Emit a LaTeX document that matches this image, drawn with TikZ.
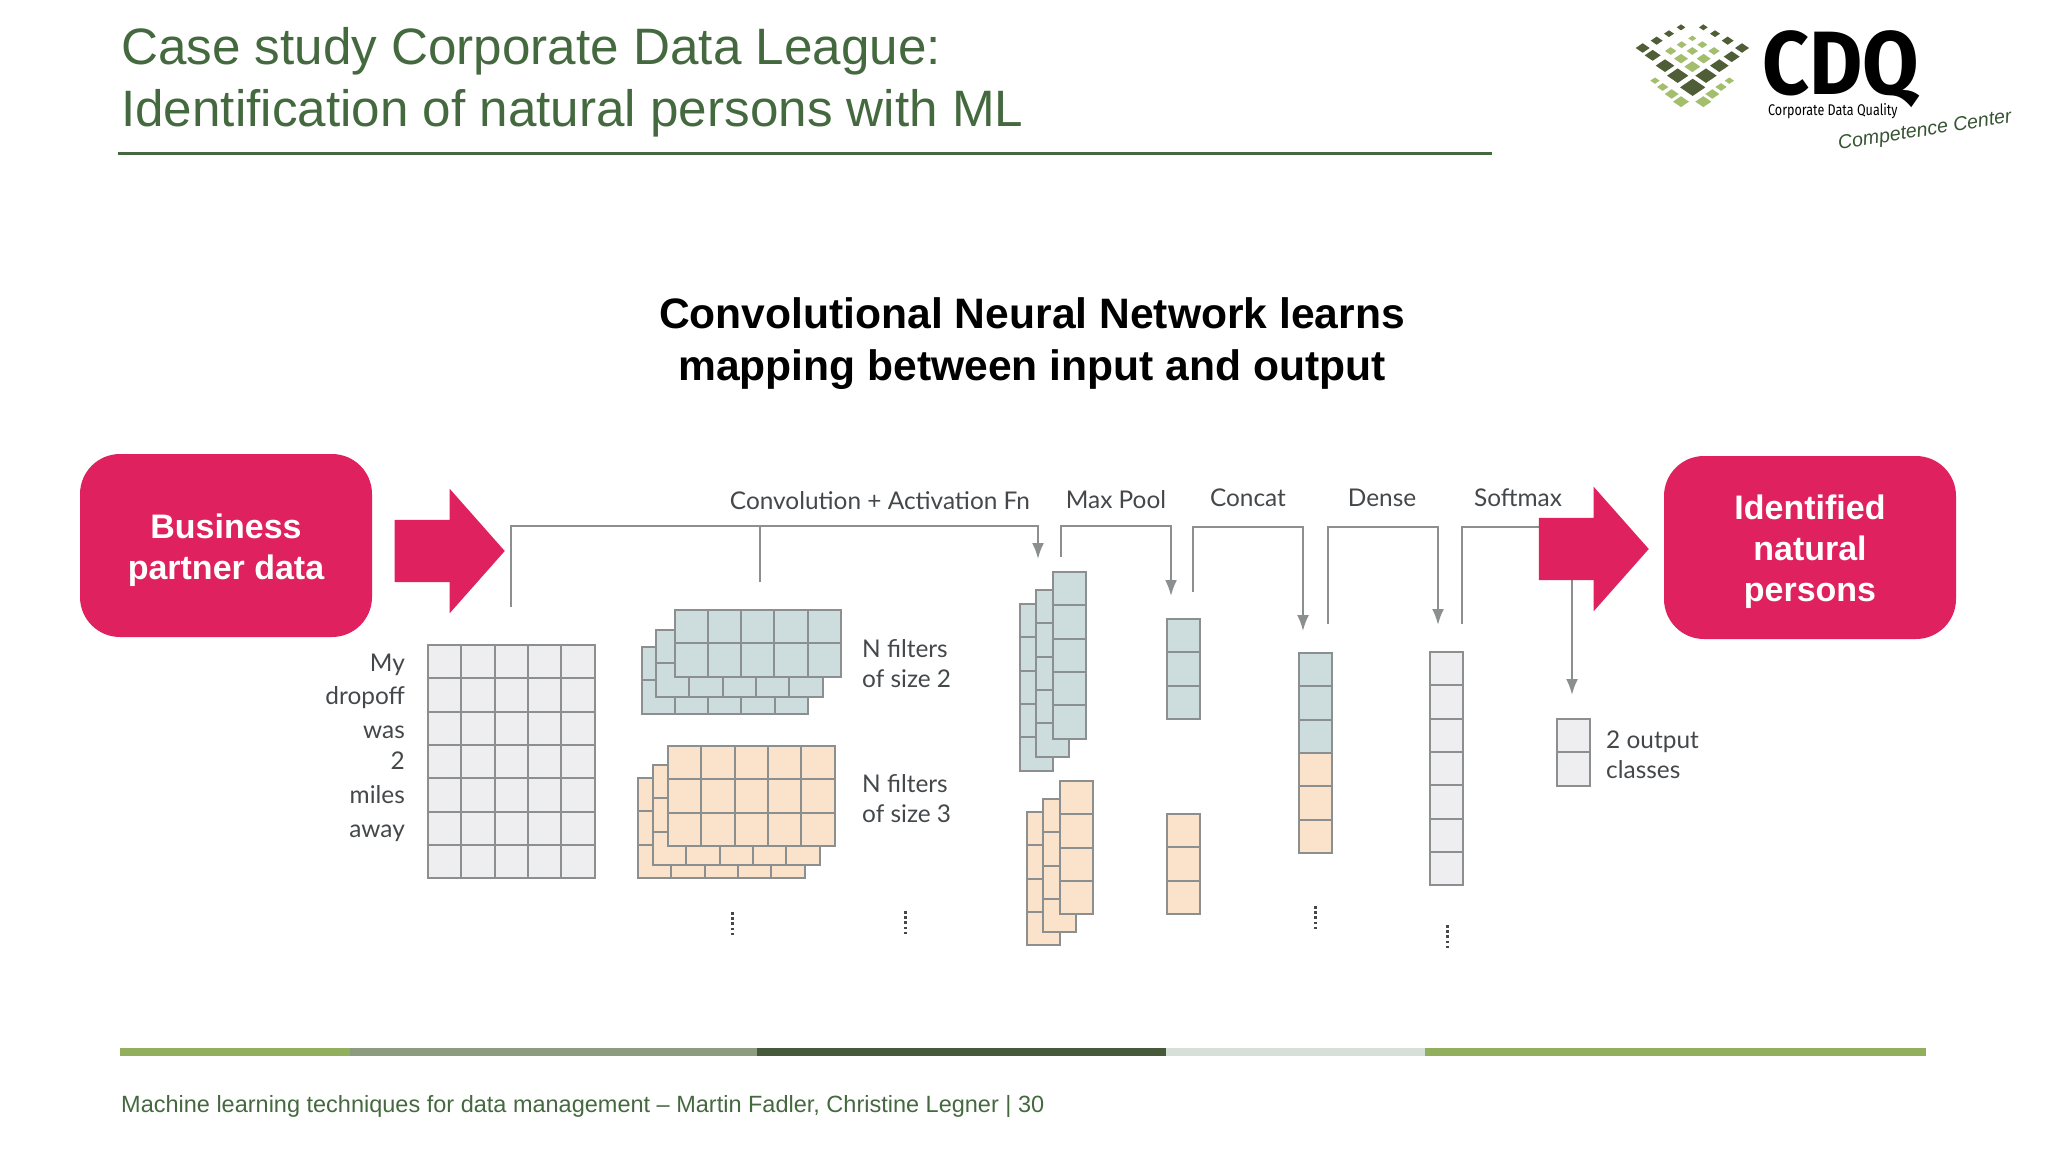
\documentclass[tikz,border=0pt]{standalone}
\usepackage{fontspec}
\setmainfont{Liberation Sans}
\newfontfamily\cnnfont{Lato}
\newfontfamily\cdqfont{Fira Sans}
\usetikzlibrary{arrows,arrows.meta,shapes,shapes.arrows,positioning}
\definecolor{slidegreen}{HTML}{44693F}
\definecolor{pink}{HTML}{E0215F}
\definecolor{cellline}{HTML}{8C8F90}
\definecolor{cellgrey}{HTML}{EEEEF1}
\definecolor{cellblue}{HTML}{CDDDDE}
\definecolor{cellorange}{HTML}{FBE3CB}
\definecolor{cnntext}{HTML}{44484A}
\definecolor{leafdark}{HTML}{4F5E36}
\definecolor{leaflight}{HTML}{A3BE6C}
% one block of square cells: name, left, top, columns, rows, fill
\newcommand{\cnngrid}[6]{
  \foreach \col in {1,...,#4}
    \foreach \row in {1,...,#5}
      \path [cell,fill=#6] ({#2+(\col-1)*33.3},{#3+(\row-1)*33.3})
        rectangle +(33.3,33.3);
  \coordinate (#1) at ({#2+#4*16.65},#3);
}
\begin{document}
\begin{tikzpicture}
  [x=1pt,y=-1pt,
  title/.style={font=\fontsize{51.2}{60}\selectfont,text=slidegreen,anchor=base west,inner sep=0pt},
  heading/.style={font=\fontsize{42.6}{52}\selectfont\bfseries,align=center,text=black},
  pinkbox/.style={rectangle,fill=pink,rounded corners=40pt,minimum width=292pt,
    minimum height=183pt,inner sep=0pt},
  pinktext/.style={text=white,align=center,inner sep=0pt,yshift=-4.5pt,
    font=\fontsize{34}{41}\selectfont\bfseries},
  bigarrow/.style={single arrow,fill=pink,anchor=tip,inner xsep=0pt,inner ysep=31pt,
    minimum height=110pt,single arrow head extend=31pt,single arrow head indent=0pt,
    single arrow tip angle=97},
  cell/.style={draw=cellline,line width=2pt},
  layer/.style={font=\cnnfont\fontsize{24.4}{30}\selectfont,text=cnntext,inner sep=0pt},
  note/.style={layer,align=left,anchor=west},
  word/.style={layer,anchor=east,text height=18pt,text depth=5pt},
  link/.style={draw=cellline,line width=2.2pt},
  line/.style={link,-{Latex[length=16pt,width=12pt]}},
  more/.style={draw=cnntext,line width=3pt,dash pattern=on 2.6pt off 2.6pt}]
  \useasboundingbox (0,0) rectangle (2048,1152);

  % slide head
  \node [title] (line1) at (121,64) {Case study Corporate Data League:};
  \node [title] (line2) at (121,126) {Identification of natural persons with ML};
  \coordinate (ruleL) at (118,153);
  \coordinate (ruleR) at (1492,153);
  \draw [slidegreen,line width=3pt] (ruleL) -- (ruleR);
  \node [heading] (head) at (1032,344) {Convolutional Neural Network learns\\[0pt]mapping between input and output};

  % connectors first, the pink arrows lie over them
  \coordinate (a0) at (511,607); \coordinate (a1) at (511,526);
  \coordinate (a2) at (760,582); \coordinate (a3) at (760,526);
  \coordinate (a4) at (1038,526); \coordinate (a5) at (1038,559);
  \coordinate (b0) at (1061,557); \coordinate (b1) at (1061,526);
  \coordinate (b2) at (1171,526); \coordinate (b3) at (1171,596);
  \coordinate (c0) at (1193,592); \coordinate (c1) at (1193,527);
  \coordinate (c2) at (1303,527); \coordinate (c3) at (1303,631);
  \coordinate (d0) at (1328,624); \coordinate (d1) at (1328,527);
  \coordinate (d2) at (1438,527); \coordinate (d3) at (1438,625);
  \coordinate (e0) at (1462,624); \coordinate (e1) at (1462,527);
  \coordinate (e2) at (1572,527); \coordinate (e3) at (1572,695);
  \path [line] (a0) -- (a1) -- (a4) -- (a5);
  \path [link] (a2) -- (a3);
  \path [line] (b0) -- (b1) -- (b2) -- (b3);
  \path [line] (c0) -- (c1) -- (c2) -- (c3);
  \path [line] (d0) -- (d1) -- (d2) -- (d3);
  \path [line] (e0) -- (e1) -- (e2) -- (e3);

  \node [pinkbox] (input) at (226,545.5) {};
  \node [pinktext] (inputtext) at (input) {Business\\partner data};
  \node [pinkbox] (output) at (1810,547.5) {};
  \node [pinktext] (outputtext) at (output) {Identified\\natural\\persons};
  \node [bigarrow] (arrowin) at (505,551) {};
  \node [bigarrow] (arrowout) at (1649,549) {};

  % sentence matrix
  \cnngrid{sentence}{428}{645}{5}{7}{cellgrey}
  \foreach \y/\w in {665/My,698/dropoff,732/was,763/2,797/miles,831/away}
    \node [word] (w\y) at (405,\y) {\w};

  % filters
  \cnngrid{blueC}{641.5}{647}{5}{2}{cellblue}
  \cnngrid{blueB}{656}{630}{5}{2}{cellblue}
  \cnngrid{blueA}{674.5}{610}{5}{2}{cellblue}
  \cnngrid{orangeC}{638}{778}{5}{3}{cellorange}
  \cnngrid{orangeB}{653}{765}{5}{3}{cellorange}
  \cnngrid{orangeA}{668}{746}{5}{3}{cellorange}
  \node [note] (size2) at (862,664) {N filters\\of size 2};
  \node [note] (size3) at (862,799) {N filters\\of size 3};

  % feature maps
  \cnngrid{mapC}{1020}{604}{1}{5}{cellblue}
  \cnngrid{mapB}{1036}{590}{1}{5}{cellblue}
  \cnngrid{mapA}{1053}{572}{1}{5}{cellblue}
  \cnngrid{mapF}{1026.5}{812}{1}{4}{cellorange}
  \cnngrid{mapE}{1043}{799}{1}{4}{cellorange}
  \cnngrid{mapD}{1059.5}{781}{1}{4}{cellorange}
  \cnngrid{poolA}{1167}{619}{1}{3}{cellblue}
  \cnngrid{poolB}{1167}{814}{1}{3}{cellorange}
  \cnngrid{concatA}{1299}{653}{1}{3}{cellblue}
  \cnngrid{concatB}{1299}{753}{1}{3}{cellorange}
  \cnngrid{dense}{1430}{652}{1}{7}{cellgrey}
  \cnngrid{soft}{1557}{719}{1}{2}{cellgrey}
  \node [note] (classes) at (1606,755) {2 output\\classes};

  \node [layer] (conv) at (880,501) {Convolution + Activation Fn};
  \node [layer] (pool) at (1116,500) {Max Pool};
  \node [layer] (conc) at (1248,498) {Concat};
  \node [layer] (dens) at (1382,498) {Dense};
  \node [layer] (softm) at (1518,498) {Softmax};

  \foreach \x/\ya/\yb in {732/912/938,905/911/937,1315/906/932,1447/925/951}
    \draw [more] (\x,\ya) -- (\x,\yb);

  % logo
  \foreach \x/\y/\s in {243/82/13,207/101/15,170/122/18,128/144/21,
      310/82/13,345/101/15,383/122/18,426/144/21,
      158/166/24,195/197/28,233/227/32,278/262/38,395/170/24,358/197/28,318/227/32}
    \fill [leafdark] ({1600+(\x-\s)/3},{\y/3}) -- ({1600+\x/3},{(\y-0.68*\s)/3})
      -- ({1600+(\x+\s)/3},{\y/3}) -- ({1600+\x/3},{(\y+0.68*\s)/3}) -- cycle;
  \foreach \x/\y/\s in {277/115/12,245/134/15,307/134/15,212/153/17,277/153/17,342/153/17,
      243/176/21,311/176/21,277/200/24,165/242/14,188/261/17,215/282/21,243/305/24,
      388/242/14,363/261/17,337/282/21,310/305/24}
    \fill [leaflight] ({1600+(\x-\s)/3},{\y/3}) -- ({1600+\x/3},{(\y-0.68*\s)/3})
      -- ({1600+(\x+\s)/3},{\y/3}) -- ({1600+\x/3},{(\y+0.68*\s)/3}) -- cycle;
  \node [font=\cdqfont\bfseries\fontsize{90}{90}\selectfont,inner sep=0pt,anchor=base west,xscale=0.91] (cdq) at (1762,94) {CDQ};
  \node [font=\cdqfont\fontsize{15.5}{18}\selectfont,inner sep=0pt,anchor=base west,xscale=0.81] (cdqsub) at (1768,115) {Corporate Data Quality};
  \node [font=\itshape\fontsize{19.6}{24}\selectfont,text=slidegreen!80!black,rotate=9,inner sep=0pt] (cdqhand) at (1925,131) {Competence Center};

  % foot
  \foreach \a/\b/\c in {120/350/91AF5C,350/757/8D9B7E,757/1166/465A3B,1166/1425/D6DFD8,1425/1926/91AF5C}{
    \definecolor{barcolor}{HTML}{\c}
    \fill [barcolor] (\a,1048) rectangle (\b,1056);
  }
  \node [font=\fontsize{23.5}{28}\selectfont,text=slidegreen,anchor=base west,inner sep=0pt] (foot) at (121,1112)
    {Machine learning techniques for data management – Martin Fadler, Christine Legner | 30};
\end{tikzpicture}
\end{document}
